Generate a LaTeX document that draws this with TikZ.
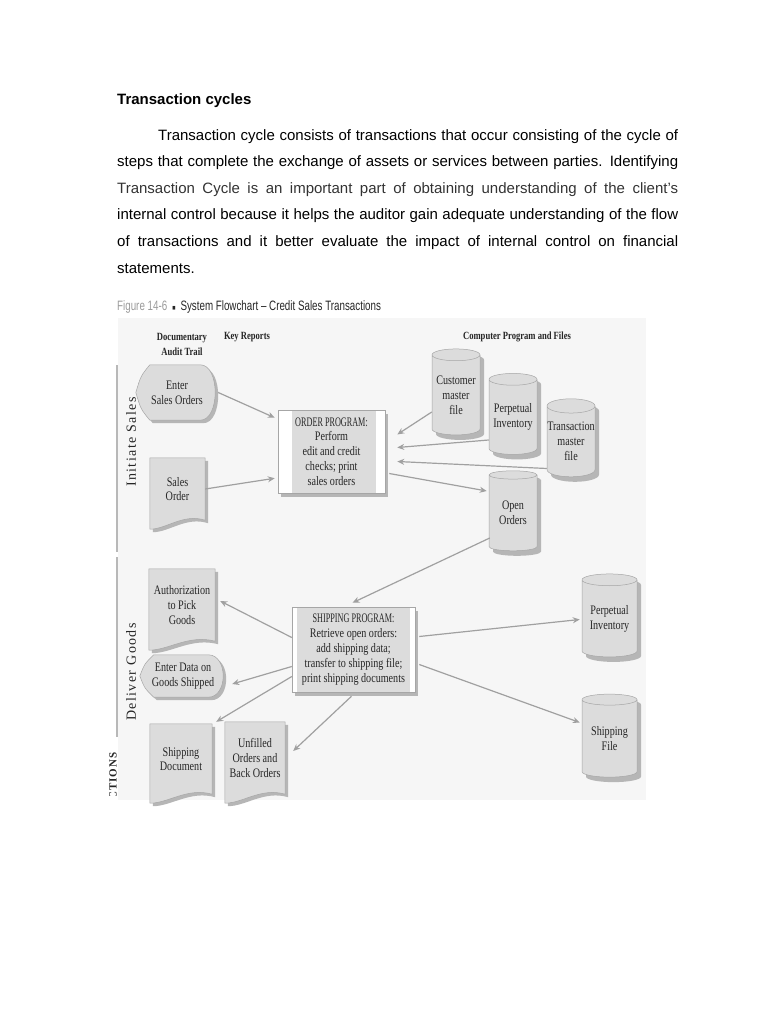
\documentclass[tikz,border=0pt]{standalone}
\usepackage{fontspec}
\setmainfont{Liberation Sans}
\newfontfamily\chartfont[FakeStretch=0.78]{Liberation Serif}
\newfontfamily\chartcaps[FakeStretch=0.63]{Liberation Serif}
\newfontfamily\headfont[FakeStretch=0.78]{Liberation Serif}
\newfontfamily\lanefont[LetterSpace=10]{Liberation Serif}
\newfontfamily\capfont[FakeStretch=0.72]{Liberation Sans}
\usetikzlibrary{shapes.geometric,shadows,arrows.meta,calc,backgrounds}

\definecolor{boxgray}{HTML}{DCDCDC}
\definecolor{shadegray}{HTML}{B6B6B6}
\definecolor{rimgray}{HTML}{A6A6A6}
\definecolor{arrowgray}{HTML}{A0A0A0}
\definecolor{inkgray}{HTML}{262626}
\definecolor{backgray}{HTML}{F6F6F6}
\definecolor{lanegray}{HTML}{B8B8B8}
\definecolor{figgray}{HTML}{9A9A9A}

\tikzset{
  bodyline/.style={anchor=base west, inner sep=0pt, font=\fontsize{15}{18}\selectfont},
  chartlabel/.style={font=\chartfont\fontsize{13}{14.8}\selectfont, text=inkgray, align=center, inner sep=0pt},
  headlabel/.style={font=\headfont\bfseries\fontsize{11}{15}\selectfont, text=inkgray, align=center, inner sep=0pt},
  lanelabel/.style={font=\lanefont\fontsize{14}{15}\selectfont, text=inkgray, rotate=90, inner sep=0pt},
  drum/.style={chartlabel, cylinder, shape border rotate=90, aspect=0.3, draw=rimgray, line width=0.5pt, fill=boxgray,
    drop shadow={shadow xshift=4pt, shadow yshift=-5pt, fill=shadegray, opacity=1}},
  progbox/.style 2 args={chartlabel, rectangle, draw=rimgray, line width=0.5pt, fill=white,
    drop shadow={shadow xshift=3pt, shadow yshift=-4pt, fill=shadegray, opacity=1},
    path picture={\fill[boxgray] ($(path picture bounding box.north west)+(#1,0)$) rectangle ($(path picture bounding box.south east)+(-#2,0)$);}},
  paper/.style={chartlabel, rectangle},
  screen/.style={chartlabel, rectangle},
  flow/.style={draw=arrowgray, line width=1.2pt, -{Stealth[length=7pt,width=6pt]}}
}

% outline of a document symbol round a node
\newcommand{\paperpath}[2][]{\path[#1] (#2.north west) -- (#2.north east) -- (#2.south east)
  .. controls ($(#2.south west)!0.6!(#2.south east)+(0,-7)$) and ($(#2.south west)!0.3!(#2.south east)+(0,9)$)
  .. ($(#2.south west)+(0,9)$) -- cycle;}
% outline of a display symbol round a node
\newcommand{\screenpath}[2][]{\path[#1] (#2.west)
  .. controls ($(#2.west)!0.6!(#2.north west)+(5,0)$) .. ($(#2.north west)+(14,0)$)
  -- ($(#2.north east)+(-18,0)$)
  .. controls ($(#2.north east)+(2,0)$) and ($(#2.south east)+(2,0)$) .. ($(#2.south east)+(-18,0)$)
  -- ($(#2.south west)+(14,0)$)
  .. controls ($(#2.west)!0.6!(#2.south west)+(5,0)$) .. (#2.west) -- cycle;}

\begin{document}
\begin{tikzpicture}[x=1pt, y=-1pt]
\useasboundingbox (0,0) rectangle (768,1024);
% Page text
\node[anchor=base west, inner sep=0pt, font=\bfseries\fontsize{15}{18}\selectfont] (title) at (117,104.5) {Transaction cycles};
\node[bodyline] (line1) at (158,141) {\makebox[520pt][s]{Transaction cycle consists of transactions that occur consisting of the cycle of}};
\node[bodyline] (line2) at (117,167) {\makebox[561pt][s]{steps that complete the exchange of assets or services between parties. Identifying}};
\node[bodyline, text=black!80] (line3) at (117,194) {\makebox[561pt][s]{Transaction Cycle is an important part of obtaining understanding of the client’s}};
\node[bodyline] (line4) at (117,220) {\makebox[561pt][s]{internal control because it helps the auditor gain adequate understanding of the flow}};
\node[bodyline] (line5) at (117,246) {\makebox[561pt][s]{of transactions and it better evaluate the impact of internal control on financial}};
\node[bodyline] (line6) at (117,273) {statements.};
% Caption
\node[anchor=base west, inner sep=0pt, font=\capfont\fontsize{13.6}{16}\selectfont] (caption) at (117,310)
  {\textcolor{figgray}{Figure 14-6}\hspace{5pt}\textcolor{inkgray}{\scalebox{0.55}{■}}\hspace{5pt}\textcolor{inkgray}{System Flowchart – Credit Sales Transactions}};
% Lanes
\draw[lanegray, line width=1.4pt] (117,365) -- (117,552);
\draw[lanegray, line width=1.4pt] (117,557) -- (117,737);
\node[lanelabel] (initiate) at (131,442) {Initiate Sales};
\node[lanelabel] (deliver) at (131,672) {Deliver Goods};
\begin{scope}
  \clip (100,745) rectangle (126,795);
  \node[lanelabel, font=\lanefont\bfseries\fontsize{11}{13}\selectfont, anchor=east] (lanecut) at (113,752) {CTIONS};
\end{scope}
% Column heads
\node[headlabel] (audit) at (182,344.5) {Documentary\\Audit Trail};
\node[headlabel] (reports) at (247,337) {Key Reports};
\node[headlabel] (files) at (517,337) {Computer Program and Files};
% Initiate sales
\node[screen, minimum width=82pt, minimum height=55pt] (esales) at (177,392.5) {Enter\\Sales Orders};
\node[paper, minimum width=55pt, minimum height=62pt] (sorder) at (177.5,489) {Sales\\Order};
\node[progbox={14pt}{9pt}, minimum width=107pt, minimum height=83pt] (order) at (331.5,451.5)
  {{\chartcaps ORDER PROGRAM:}\\Perform\\edit and credit\\checks; print\\sales orders};
\node[drum, minimum width=48pt, minimum height=86pt] (cust) at (456,395) {Customer\\master\\file};
\node[drum, minimum width=48pt, minimum height=81pt] (perp) at (513,417) {Perpetual\\Inventory};
\node[drum, minimum width=48pt, minimum height=78pt] (trans) at (571,441.5) {Transaction\\master\\file};
\node[drum, minimum width=48pt, minimum height=80pt] (open) at (513,513) {Open\\Orders};
% Deliver goods
\node[progbox={5pt}{5pt}, minimum width=123pt, minimum height=85pt] (ship) at (353.5,649.5)
  {{\chartcaps SHIPPING PROGRAM:}\\Retrieve open orders:\\add shipping data;\\transfer to shipping file;\\print shipping documents};
\node[paper, minimum width=66pt, minimum height=72pt] (auth) at (182,605) {Authorization\\to Pick\\Goods};
\node[screen, minimum width=86pt, minimum height=42pt] (edata) at (183,676) {Enter Data on\\Goods Shipped};
\node[paper, minimum width=62pt, minimum height=70pt] (sdoc) at (181,759) {Shipping\\Document};
\node[paper, minimum width=60pt, minimum height=72pt] (unfill) at (255,758) {Unfilled\\Orders and\\Back Orders};
\node[drum, minimum width=55pt, minimum height=83pt] (perp2) at (609.5,618.5) {Perpetual\\Inventory};
\node[drum, minimum width=55pt, minimum height=83pt] (shipfile) at (609.5,738.5) {Shipping\\File};
% Symbols behind the labels
\begin{scope}[on background layer]
  \fill[backgray] (118,318) rectangle (646,800);
  \screenpath[fill=shadegray, transform canvas={xshift=3pt, yshift=-3pt}]{esales}
  \screenpath[fill=boxgray, draw=rimgray, line width=0.5pt]{esales}
  \screenpath[fill=shadegray, transform canvas={xshift=3pt, yshift=-3pt}]{edata}
  \screenpath[fill=boxgray, draw=rimgray, line width=0.5pt]{edata}
  \paperpath[fill=shadegray, transform canvas={xshift=3pt, yshift=-3pt}]{sorder}
  \paperpath[fill=boxgray, draw=rimgray, line width=0.5pt]{sorder}
  \paperpath[fill=shadegray, transform canvas={xshift=3pt, yshift=-3pt}]{auth}
  \paperpath[fill=boxgray, draw=rimgray, line width=0.5pt]{auth}
  \paperpath[fill=shadegray, transform canvas={xshift=3pt, yshift=-3pt}]{sdoc}
  \paperpath[fill=boxgray, draw=rimgray, line width=0.5pt]{sdoc}
  \paperpath[fill=shadegray, transform canvas={xshift=3pt, yshift=-3pt}]{unfill}
  \paperpath[fill=boxgray, draw=rimgray, line width=0.5pt]{unfill}
\end{scope}
% Flows
\draw[flow] (esales.east) -- ($(order.north west)+(-3,8)$);
\draw[flow] (sorder.east) -- ($(order.south west)+(-3,-15)$);
\draw[flow] ($(cust.west)+(0,17)$) -- ($(order.east)+(12,-17)$);
\draw[flow] ($(perp.west)+(0,23)$) -- ($(order.east)+(12,-4)$);
\draw[flow] ($(trans.west)+(0,27)$) -- ($(order.east)+(12,10)$);
\draw[flow] ($(order.east)+(4,22)$) -- ($(open.west)+(-2,-22)$);
\draw[flow] ($(open.west)+(1,25)$) -- ($(ship.north)+(-1,-4)$);
\draw[flow] ($(ship.west)+(0,-12)$) -- ($(auth.east)+(5,-4)$);
\draw[flow] ($(ship.west)+(0,17)$) -- ($(edata.east)+(6,8)$);
\draw[flow] ($(ship.west)+(0,27)$) -- ($(sdoc.north east)+(4,-2)$);
\draw[flow] ($(ship.south)+(-2,4)$) -- ($(unfill.east)+(8,-7)$);
\draw[flow] ($(ship.east)+(4,-13)$) -- ($(perp2.west)+(-2,1)$);
\draw[flow] ($(ship.east)+(4,15)$) -- ($(shipfile.west)+(-2,-16)$);
\end{tikzpicture}
\end{document}
